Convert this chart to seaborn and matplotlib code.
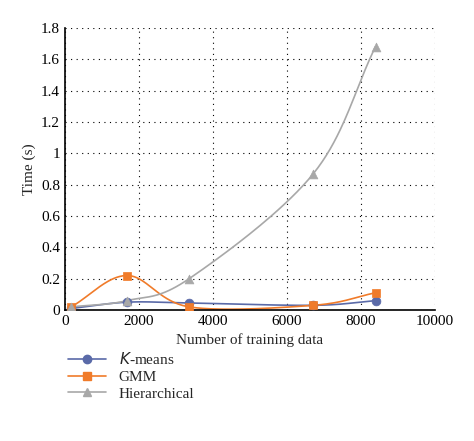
import numpy as np
import matplotlib
matplotlib.use("Agg")
import matplotlib.pyplot as plt
import seaborn as sns
import pandas as pd

sizes = [170, 1680, 3360, 6720, 8400]
kmeans = [0.01, 0.05, 0.045, 0.03, 0.06]
gmm = [0.02, 0.22, 0.02, 0.03, 0.11]
hier = [0.02, 0.06, 0.20, 0.87, 1.68]
names = ["$\\it{K}$-means", "GMM", "Hierarchical"]
colors = ["#5a6aa8", "#f07b2a", "#a8a8a8"]
markers = ["o", "s", "^"]

sns.set_theme(style="white")
plt.rcParams['font.family'] = ['Liberation Serif', 'DejaVu Serif']

def smooth(x, y, n=40):
    x = np.asarray(x, float); y = np.asarray(y, float)
    px = np.concatenate([[2*x[0]-x[1]], x, [2*x[-1]-x[-2]]])
    py = np.concatenate([[2*y[0]-y[1]], y, [2*y[-1]-y[-2]]])
    xs, ys = [], []
    for i in range(1, len(px)-2):
        t = np.linspace(0, 1, n)
        for arr, out in ((px, xs), (py, ys)):
            p0, p1, p2, p3 = arr[i-1:i+3]
            out.extend(0.5*((2*p1) + (-p0+p2)*t + (2*p0-5*p1+4*p2-p3)*t**2 + (-p0+3*p1-3*p2+p3)*t**3))
    return np.array(xs), np.maximum(np.array(ys), 0)

fig = plt.figure(figsize=(4.74, 4.41), dpi=100)
ax = fig.add_axes([0.137, 0.297, 0.78, 0.64])
handles = []
for vals, name, c, m in zip([kmeans, gmm, hier], names, colors, markers):
    sx, sy = smooth(sizes, vals)
    sns.lineplot(x=sx, y=sy, ax=ax, color=c, lw=1.2, sort=False)
    sns.scatterplot(x=sizes, y=vals, ax=ax, color=c, marker=m, s=40, edgecolor=c, zorder=5)
    h, = ax.plot([], [], color=c, marker=m, ms=6, lw=1.2)
    handles.append(h)
if ax.get_legend() is not None:
    ax.get_legend().remove()

ax.set_xlim(0, 10000)
ax.set_ylim(0, 1.8)
ax.set_xticks(range(0, 10001, 2000))
ax.set_yticks(np.arange(0, 1.81, 0.2))
ax.set_yticklabels(["0", "0.2", "0.4", "0.6", "0.8", "1", "1.2", "1.4", "1.6", "1.8"])
ax.grid(True, color="black", linestyle=(0, (1, 4)), lw=0.8)
for s in ["top", "right"]:
    ax.spines[s].set_visible(False)
for s in ["left", "bottom"]:
    ax.spines[s].set_color("black"); ax.spines[s].set_linewidth(1.2)
ax.tick_params(labelsize=11, colors="black", length=0)
ax.set_xlabel("Number of training data", fontsize=11)
ax.set_ylabel("Time (s)", fontsize=11)
fig.legend(handles, names, loc="upper left", bbox_to_anchor=(0.115, 0.235), frameon=False, fontsize=11,
           handlelength=2.5, labelspacing=0.2)
fig.savefig("out.png", dpi=100, facecolor="white")
